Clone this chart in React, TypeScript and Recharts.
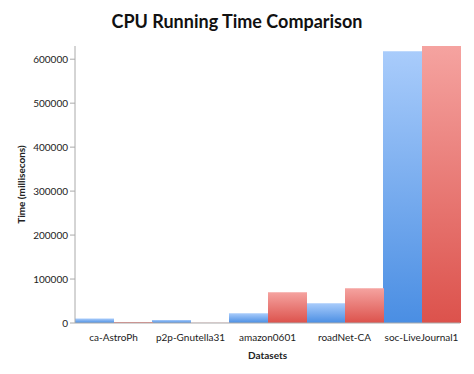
import React from 'react';
import { BarChart, Bar, XAxis, YAxis, Label } from 'recharts';

const categories = ['ca-AstroPh', 'p2p-Gnutella31', 'amazon0601', 'roadNet-CA', 'soc-LiveJournal1'];
const seriesA = [10000, 7000, 22000, 45000, 618000];
const seriesB = [2000, 500, 70000, 79000, 630000];
const yTicks = [0, 100000, 200000, 300000, 400000, 500000, 600000];

const data = categories.map((name, i) => ({ name, a: seriesA[i], b: seriesB[i] }));

const FONT = 'Lato, "Open Sans", sans-serif';

export default function App() {
  return (
    <div style={{ position: 'fixed', left: 0, top: 0, width: 474, height: 374, background: '#fff', fontFamily: FONT }}>
      <div style={{ position: 'absolute', left: 0, top: 10, width: 474, textAlign: 'center', fontSize: 18, fontWeight: 700, color: '#111' }}>
        CPU Running Time Comparison
      </div>
      <BarChart width={474} height={374} data={data} margin={{ top: 46, right: 14, left: 0, bottom: 0 }} barCategoryGap={0} barGap={0}>
        <defs>
          <linearGradient id="gBlue" x1="0" y1="0" x2="0" y2="1">
            <stop offset="0%" stopColor="#a9ccfb" />
            <stop offset="100%" stopColor="#4a8ee3" />
          </linearGradient>
          <linearGradient id="gRed" x1="0" y1="0" x2="0" y2="1">
            <stop offset="0%" stopColor="#f5a3a0" />
            <stop offset="100%" stopColor="#dc524c" />
          </linearGradient>
        </defs>
        <XAxis dataKey="name" height={51} tickLine={false} axisLine={{ stroke: '#aaa' }}
          tick={{ fontSize: 10, fill: '#222', fontFamily: FONT }} tickMargin={5} interval={0}>
          <Label value="Datasets" position="insideBottom" offset={15} style={{ fontSize: 10, fontWeight: 700, fill: '#222', fontFamily: FONT }} />
        </XAxis>
        <YAxis width={75} domain={[0, 630000]} ticks={yTicks} allowDataOverflow axisLine={{ stroke: '#aaa' }}
          tickLine={{ stroke: '#aaa' }} tickSize={5} tick={{ fontSize: 10, fill: '#222', fontFamily: FONT }}>
          <Label value="Time (millisecons)" angle={-90} position="insideLeft" offset={21} style={{ textAnchor: 'middle', fontSize: 10, fontWeight: 700, fill: '#222', fontFamily: FONT }} />
        </YAxis>
        <Bar dataKey="a" fill="url(#gBlue)" isAnimationActive={false} />
        <Bar dataKey="b" fill="url(#gRed)" isAnimationActive={false} />
      </BarChart>
    </div>
  );
}
